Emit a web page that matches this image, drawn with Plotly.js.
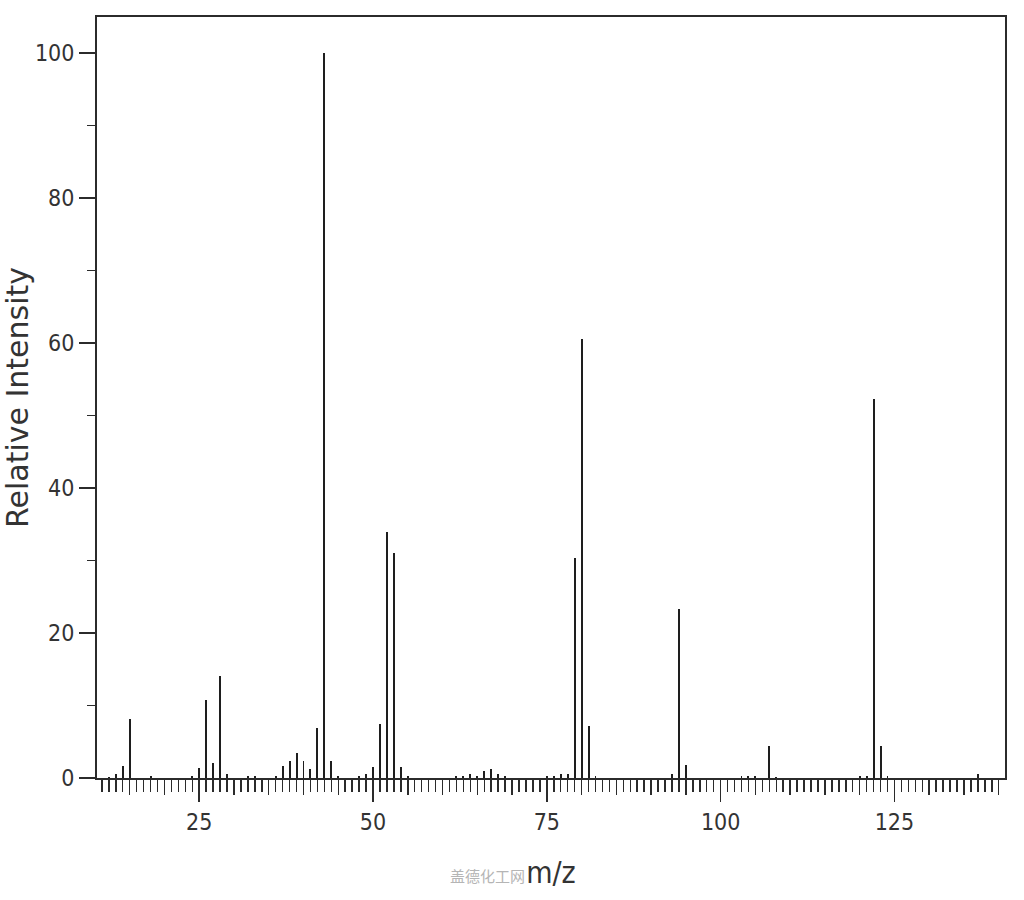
<!DOCTYPE html>
<html>
<head>
<meta charset="utf-8">
<script src="https://cdn.plot.ly/plotly-3.0.1.min.js"></script>
<style>html,body{margin:0;padding:0;background:#fff;}#chart{width:1024px;height:900px;}</style>
</head>
<body>
<div id="chart"></div>
<script>
// m/z values and relative intensities
const mz = [12, 13, 14, 15, 18, 24, 25, 26, 27, 28, 29, 32, 33, 36, 37, 38, 39, 40, 41, 42, 43, 44, 45,
  48, 49, 50, 51, 52, 53, 54, 55, 62, 63, 64, 65, 66, 67, 68, 69, 75, 76, 77, 78, 79, 80, 81, 82,
  93, 94, 95, 103, 104, 105, 107, 108, 120, 121, 122, 123, 124, 137];
const intensity = [0.2, 0.5, 1.6, 8.1, 0.3, 0.3, 1.4, 10.8, 2.1, 14.1, 0.6, 0.3, 0.3, 0.3, 1.7, 2.4, 3.4, 2.4, 1.2, 6.9, 100, 2.4, 0.3,
  0.3, 0.6, 1.5, 7.4, 34, 31, 1.5, 0.3, 0.3, 0.3, 0.6, 0.3, 0.9, 1.2, 0.6, 0.3, 0.3, 0.3, 0.6, 0.6, 30.3, 60.6, 7.2, 0.3,
  0.6, 23.3, 1.8, 0.3, 0.3, 0.3, 4.4, 0.2, 0.3, 0.3, 52.3, 4.4, 0.3, 0.6];
const xTickVals = [25, 50, 75, 100, 125];
const yTickVals = [0, 20, 40, 60, 80, 100];
const xTitle = "m/z";
const yTitle = "Relative Intensity";
const watermark = "盖德化工网";

const tickFontFamily = "DejaVu Sans Condensed, DejaVu Sans, sans-serif";
const titleFontFamily = "DejaVu Sans, sans-serif";
const axisColor = "#2b2b2b";
const textColor = "#333";
const xRange = [10.3, 140.9];

const traces = [{
  type: "bar",
  x: mz,
  y: intensity,
  width: 0.28,
  marker: {color: "#1e1e1e", line: {width: 0}},
  hoverinfo: "x+y",
  xaxis: "x",
  yaxis: "y"
}];

const layout = {
  width: 1024,
  height: 900,
  margin: {l: 97, r: 19, t: 17, b: 122},
  paper_bgcolor: "#fff",
  plot_bgcolor: "#fff",
  showlegend: false,
  bargap: 0,
  font: {family: titleFontFamily, color: textColor},
  xaxis: {
    range: xRange,
    tickmode: "array",
    tickvals: xTickVals,
    ticks: "outside",
    ticklen: 22,
    tickwidth: 1.5,
    tickcolor: axisColor,
    showline: true,
    linecolor: axisColor,
    linewidth: 2,
    mirror: true,
    showgrid: false,
    zeroline: false,
    tickfont: {size: 23, family: tickFontFamily, color: textColor},
    minor: {dtick: 1, tick0: 0, ticks: "outside", ticklen: 12, tickwidth: 1.5, tickcolor: axisColor, showgrid: false},
    title: {text: xTitle, font: {size: 30, family: "DejaVu Sans Condensed, DejaVu Sans, sans-serif", color: textColor}, standoff: 28}
  },
  xaxis2: {
    range: xRange,
    overlaying: "x",
    anchor: "y",
    side: "bottom",
    dtick: 5,
    tick0: 0,
    ticks: "outside",
    ticklen: 16,
    tickwidth: 1.5,
    tickcolor: axisColor,
    showticklabels: false,
    showline: false,
    showgrid: false,
    zeroline: false
  },
  yaxis: {
    range: [0, 105],
    tickmode: "array",
    tickvals: yTickVals,
    ticks: "outside",
    ticklen: 16,
    tickwidth: 1.5,
    tickcolor: axisColor,
    showline: true,
    linecolor: axisColor,
    linewidth: 2,
    mirror: true,
    showgrid: false,
    zeroline: false,
    tickfont: {size: 23, family: tickFontFamily, color: textColor},
    minor: {dtick: 10, tick0: 0, ticks: "outside", ticklen: 8, tickwidth: 1.5, tickcolor: axisColor, showgrid: false},
    title: {text: yTitle, font: {size: 30, family: titleFontFamily, color: textColor}, standoff: 12}
  },
  annotations: [{
    text: watermark,
    xref: "paper", yref: "paper",
    x: 0.43, y: -0.128,
    xanchor: "center", yanchor: "middle",
    showarrow: false,
    font: {size: 15, family: "Noto Sans CJK SC", color: "#b5b5b5"}
  }]
};

// invisible trace on the overlay axis so its medium ticks are drawn
traces.push({type: "scatter", x: [xRange[0]], y: [0], xaxis: "x2", yaxis: "y", mode: "markers", marker: {opacity: 0}, hoverinfo: "skip"});

Plotly.newPlot("chart", traces, layout, {displayModeBar: false, staticPlot: true});
</script>
</body>
</html>
